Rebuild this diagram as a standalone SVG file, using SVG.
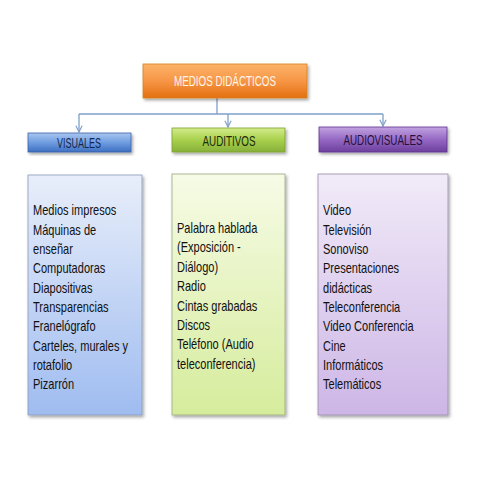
<svg xmlns="http://www.w3.org/2000/svg" width="480" height="480" viewBox="0 0 480 480">
<style>
.hdr{font-family:"Liberation Sans",Arial,sans-serif;font-size:14px;text-anchor:middle}
.item{font-family:"Liberation Sans",Arial,sans-serif;font-size:13.8px;fill:#111}
.conn{fill:none;stroke:#7f9fc8;stroke-width:1.3}
</style>
<defs>
<filter id="sh" x="-10%" y="-10%" width="130%" height="130%">
<feDropShadow dx="1.5" dy="2" stdDeviation="1.5" flood-color="#000" flood-opacity="0.35"/>
</filter>
<marker id="ar" viewBox="0 0 10 10" refX="9" refY="5" markerWidth="6" markerHeight="6" orient="auto">
<path d="M1,1 L9,5 L1,9" fill="none" stroke="#7f9fc8" stroke-width="1.5"/>
</marker>
<linearGradient id="gO" x1="0" y1="0" x2="0" y2="1"><stop offset="0" stop-color="#fbb36a"/><stop offset="0.5" stop-color="#f79646"/><stop offset="1" stop-color="#e3700e"/></linearGradient>
<linearGradient id="gB" x1="0" y1="0" x2="0" y2="1"><stop offset="0" stop-color="#a9c6f0"/><stop offset="0.5" stop-color="#6f9de0"/><stop offset="1" stop-color="#3e6fc2"/></linearGradient>
<linearGradient id="gG" x1="0" y1="0" x2="0" y2="1"><stop offset="0" stop-color="#d2ec8c"/><stop offset="0.5" stop-color="#a8d04c"/><stop offset="1" stop-color="#86b03a"/></linearGradient>
<linearGradient id="gP" x1="0" y1="0" x2="0" y2="1"><stop offset="0" stop-color="#c2a3e0"/><stop offset="0.5" stop-color="#9568c4"/><stop offset="1" stop-color="#6e3f9e"/></linearGradient>
<linearGradient id="cB" x1="0" y1="0" x2="0" y2="1"><stop offset="0" stop-color="#e8eefa"/><stop offset="1" stop-color="#9fbcf0"/></linearGradient>
<linearGradient id="cG" x1="0" y1="0" x2="0" y2="1"><stop offset="0" stop-color="#f6fbe6"/><stop offset="1" stop-color="#d6ec9c"/></linearGradient>
<linearGradient id="cP" x1="0" y1="0" x2="0" y2="1"><stop offset="0" stop-color="#f1ebf8"/><stop offset="1" stop-color="#cdb6e6"/></linearGradient>
</defs>
<rect width="480" height="480" fill="#fff"/>
<g id="connectors">
<path class="conn" d="M217,98 V114"/>
<path class="conn" d="M79,114 H383"/>
<path class="conn" d="M79,114 V132" marker-end="url(#ar)"/>
<path class="conn" d="M228,114 V127" marker-end="url(#ar)"/>
<path class="conn" d="M383,114 V126" marker-end="url(#ar)"/>
</g>
<g id="medios">
<rect x="143" y="64" width="164" height="34" fill="url(#gO)" stroke="#d8801e" stroke-width="0.8" filter="url(#sh)"/>
<text class="hdr" x="225" y="86" fill="#fff6e8" textLength="102" lengthAdjust="spacingAndGlyphs">MEDIOS DIDÁCTICOS</text>
</g>
<g id="visuales">
<rect x="28" y="133" width="103" height="19" fill="url(#gB)" stroke="#3a63a8" stroke-width="0.8" filter="url(#sh)"/>
<text class="hdr" x="79" y="148" fill="#13264d" textLength="44" lengthAdjust="spacingAndGlyphs">VISUALES</text>
</g>
<g id="auditivos">
<rect x="172" y="128" width="113" height="24" fill="url(#gG)" stroke="#7aa02e" stroke-width="0.8" filter="url(#sh)"/>
<text class="hdr" x="229" y="146" fill="#1c2a08" textLength="53" lengthAdjust="spacingAndGlyphs">AUDITIVOS</text>
</g>
<g id="audiovisuales">
<rect x="319" y="127" width="128" height="25" fill="url(#gP)" stroke="#5e3390" stroke-width="0.8" filter="url(#sh)"/>
<text class="hdr" x="383" y="145" fill="#24103a" textLength="79" lengthAdjust="spacingAndGlyphs">AUDIOVISUALES</text>
</g>
<g id="lista-visuales">
<rect x="28" y="175" width="114" height="240" fill="url(#cB)" stroke="#8a9ab8" stroke-width="0.8" filter="url(#sh)"/>
<g transform="translate(33,0) scale(0.8,1)">
<text class="item" x="0" y="215.5">Medios impresos</text>
<text class="item" x="0" y="234.8">Máquinas de</text>
<text class="item" x="0" y="254.1">enseñar</text>
<text class="item" x="0" y="273.4">Computadoras</text>
<text class="item" x="0" y="292.7">Diapositivas</text>
<text class="item" x="0" y="312">Transparencias</text>
<text class="item" x="0" y="331.3">Franelógrafo</text>
<text class="item" x="0" y="350.6">Carteles, murales y</text>
<text class="item" x="0" y="369.9">rotafolio</text>
<text class="item" x="0" y="389.2">Pizarrón</text>
</g>
</g>
<g id="lista-auditivos">
<rect x="172" y="174" width="113" height="241" fill="url(#cG)" stroke="#9aa880" stroke-width="0.8" filter="url(#sh)"/>
<g transform="translate(177,0) scale(0.8,1)">
<text class="item" x="0" y="233">Palabra hablada</text>
<text class="item" x="0" y="252.4">(Exposición -</text>
<text class="item" x="0" y="271.8">Diálogo)</text>
<text class="item" x="0" y="291.2">Radio</text>
<text class="item" x="0" y="310.6">Cintas grabadas</text>
<text class="item" x="0" y="330">Discos</text>
<text class="item" x="0" y="349.4">Teléfono (Audio</text>
<text class="item" x="0" y="368.8">teleconferencia)</text>
</g>
</g>
<g id="lista-audiovisuales">
<rect x="318" y="174" width="130" height="241" fill="url(#cP)" stroke="#9a8aaa" stroke-width="0.8" filter="url(#sh)"/>
<g transform="translate(323,0) scale(0.8,1)">
<text class="item" x="0" y="215.5">Video</text>
<text class="item" x="0" y="234.8">Televisión</text>
<text class="item" x="0" y="254.1">Sonoviso</text>
<text class="item" x="0" y="273.4">Presentaciones</text>
<text class="item" x="0" y="292.7">didácticas</text>
<text class="item" x="0" y="312">Teleconferencia</text>
<text class="item" x="0" y="331.3">Video Conferencia</text>
<text class="item" x="0" y="350.6">Cine</text>
<text class="item" x="0" y="369.9">Informáticos</text>
<text class="item" x="0" y="389.2">Telemáticos</text>
</g>
</g>
</svg>
